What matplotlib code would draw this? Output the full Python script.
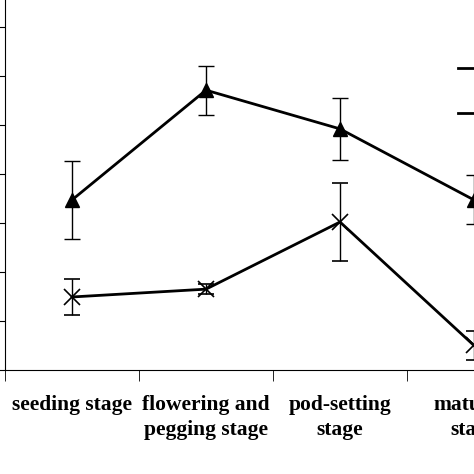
import matplotlib
matplotlib.use("Agg")
import matplotlib.pyplot as plt

categories = ["seeding stage", "flowering and\npegging stage", "pod-setting\nstage", "maturity\nstage"]
series_x = [1.49, 1.65, 3.02, 0.5]
err_x = [0.37, 0.1, 0.79, 0.3]
series_tri = [3.47, 5.71, 4.92, 3.47]
err_tri = [0.8, 0.5, 0.63, 0.5]
labels = ["CK", "Treatment"]

plt.rcParams["savefig.bbox"] = None
fig = plt.figure(figsize=(4.74, 4.74), dpi=100)
ax = fig.add_axes([5/474, 104/474, 1 - 5/474, 370/474])
xs = list(range(len(categories)))
ax.errorbar(xs, series_x, yerr=err_x, color="black", lw=2, marker="x", ms=12, mew=1.2,
            capsize=6, elinewidth=1, capthick=1, label=labels[0])
ax.errorbar(xs, series_tri, yerr=err_tri, color="black", lw=2, marker="^", ms=10,
            capsize=6, elinewidth=1, capthick=1, label=labels[1])
ax.set_xlim(-0.49, 2.68)
ax.set_ylim(0, 7.55)
ax.set_yticks(range(0, 8))
ax.set_yticklabels([])
ax.tick_params(axis="y", length=5, direction="out")
ax.set_xticks(xs)
ax.set_xticklabels(categories, fontfamily="Liberation Serif", fontweight="bold", fontsize=15.5,
                   linespacing=1.3)
ax.tick_params(axis="x", length=0, pad=18)
ax.set_xticks([-0.5, 0.5, 1.5, 2.5], minor=True)
ax.tick_params(axis="x", which="minor", length=8)
for s in ["top", "right"]:
    ax.spines[s].set_visible(False)
ax.legend(loc="upper left", bbox_to_anchor=(0.925, 0.89), frameon=False,
          handlelength=2.5, fontsize=15, labelspacing=1.2)
fig.savefig("out.png", dpi=100, bbox_inches=None)
